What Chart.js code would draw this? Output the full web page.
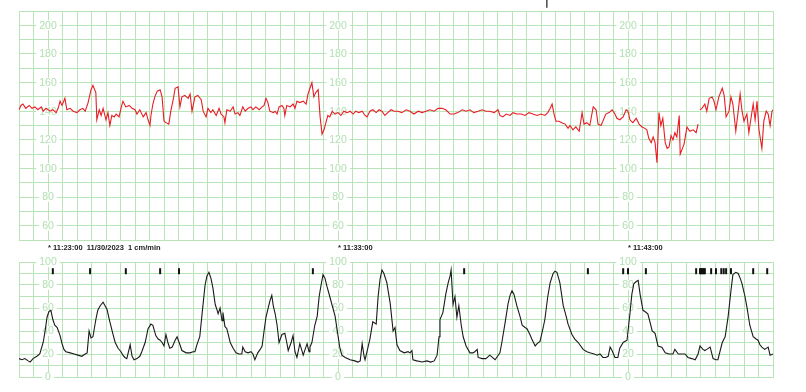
<!DOCTYPE html>
<html><head><meta charset="utf-8">
<script src="https://cdn.jsdelivr.net/npm/chart.js@4/dist/chart.umd.min.js"></script>
<style>
html,body{margin:0;padding:0;background:#fff;}
#wrap{position:relative;width:806px;height:392px;overflow:hidden;background:#fff;}
canvas{position:absolute;left:0;}
</style></head><body>
<div id="wrap">
<canvas id="fhr" width="806" height="262" style="top:0"></canvas>
<canvas id="toco" width="806" height="136" style="top:256px"></canvas>
</div>
<script>
// Time axis: seconds after 11:22:00 on 11/30/2023
const timeTickSec = [60, 660, 1260];
const timeTickText = ['* 11:23:00  11/30/2023  1 cm/min', '* 11:33:00', '* 11:43:00'];
const fhrTickLabels = [60, 80, 100, 120, 140, 160, 180, 200];
const tocoTickLabels = [0, 20, 40, 60, 80, 100];

const fhrSec = [0,4,8,14,21,27,33,39,46,50,
56,64,70,77,81,85,89,95,99,106,
112,120,126,132,137,143,149,153,159,161,
166,170,174,180,184,188,192,197,201,207,
211,215,221,228,234,240,244,250,257,263,
267,271,273,277,281,286,292,296,300,304,
310,314,319,323,329,333,337,343,350,354,
358,364,370,377,381,387,391,397,401,408,
414,418,424,426,430,437,443,447,453,457,
463,468,474,480,484,490,497,503,507,511,
515,519,526,530,534,538,544,548,550,554,
561,567,571,575,581,588,594,598,602,606,
610,614,619,623,627,631,635,639,643,648,
654,660,666,672,679,685,691,697,703,710,
716,720,726,732,739,745,751,757,763,770,
776,784,792,801,809,817,826,834,842,850,
859,867,875,883,892,900,908,917,925,933,
941,950,958,966,974,983,991,995,1001,1008,
1016,1022,1030,1039,1047,1055,1063,1072,1080,1088,
1094,1099,1103,1107,1111,1117,1123,1130,1136,1140,
1146,1152,1159,1165,1169,1175,1181,1188,1194,1198,
1204,1208,1214,1221,1227,1233,1237,1243,1250,1256,
1260,1264,1270,1277,1283,1289,1295,1299,1303,1308,
1312,1316,1320,1324,1328,1332,1337,1341,1345,1349,
1353,1357,1361,1366,1368,1376,1382,1388,1395,1401,
1405,1407,1409,1413,1419,1423,1428,1434,1438,1442,
1448,1455,1459,1463,1469,1473,1477,1483,1488,1492,
1496,1500,1506,1510,1514,1519,1523,1527,1531,1537,
1541,1546,1550,1554,1558,1560];

const fhrBpm = [141,144,145,142,144,142,143,141,143,140,
142,140,141,139,142,147,144,149,141,142,
140,139,141,142,140,146,155,158,153,134,
141,137,142,134,139,130,137,136,138,136,
142,147,143,144,142,141,138,141,136,139,
134,130,137,145,150,154,155,150,133,132,
131,140,148,156,157,143,150,151,149,152,
140,150,151,148,140,136,142,139,141,137,
142,138,136,132,141,140,143,138,139,137,
143,140,142,143,141,143,141,143,144,149,
146,140,139,140,138,143,144,142,137,144,
143,145,142,147,146,147,145,152,156,160,
150,153,155,136,124,127,132,137,136,140,
138,139,137,140,139,140,138,140,139,140,
137,136,140,141,139,141,140,137,139,141,
140,140,139,141,140,138,140,139,140,141,
140,142,142,141,138,138,139,141,140,141,
139,140,141,140,140,139,141,137,136,138,
137,139,138,138,137,139,138,137,138,137,
139,142,145,138,133,133,132,131,128,130,
127,129,126,139,131,132,130,143,141,131,
130,133,138,139,141,138,135,134,136,141,
140,134,132,135,131,129,128,127,121,118,
122,118,104,139,130,135,118,114,115,123,
120,125,122,137,110,117,129,126,127,125,
131,null,141,142,145,140,149,150,147,141,
150,156,151,136,140,150,145,126,140,152,
140,133,138,125,134,145,134,147,127,114,
133,140,138,130,140,141];

// small marker above the FHR grid (from / to bpm level)
const fhrMarkSec = [1092];
const fhrMarkRange = [[212.5, 217.5]];

const tocoSec = [0,6,12,19,23,29,37,43,50,54,
58,62,66,70,74,79,85,89,93,97,
106,114,122,130,137,141,145,149,153,159,
163,168,174,178,182,188,194,199,205,211,
215,219,223,230,234,238,244,250,254,261,
267,273,277,283,288,292,296,300,304,308,
312,317,323,327,333,337,346,354,360,364,
368,374,381,385,389,393,397,401,406,410,
412,416,420,422,426,430,437,443,449,455,
461,463,468,474,480,484,488,494,499,503,
507,511,515,519,523,526,530,534,538,544,
550,554,557,563,567,571,575,579,581,586,
588,592,596,600,602,606,608,612,617,621,
625,629,633,637,643,648,654,660,664,668,
675,685,695,701,706,710,714,716,720,726,
732,739,743,747,751,755,761,768,772,774,
778,782,788,797,805,809,813,815,823,834,
844,852,859,865,869,871,877,883,888,892,
894,898,902,906,910,915,919,925,933,939,
943,948,950,958,966,974,985,995,999,1006,
1012,1016,1020,1024,1030,1037,1041,1047,1051,1057,
1061,1068,1072,1078,1084,1088,1094,1099,1105,1109,
1113,1119,1126,1132,1136,1144,1150,1157,1167,1175,
1181,1190,1196,1202,1208,1214,1219,1223,1227,1233,
1239,1243,1250,1258,1264,1268,1272,1277,1281,1285,
1291,1295,1301,1306,1310,1316,1322,1330,1337,1345,
1353,1357,1364,1372,1378,1384,1392,1399,1405,1409,
1415,1419,1423,1430,1436,1442,1446,1455,1461,1467,
1473,1477,1483,1488,1492,1496,1502,1506,1512,1519,
1525,1529,1533,1537,1543,1550,1554,1560];

const tocoVal = [16,15,16,14,13,16,18,20,30,40,
52,57,58,50,45,43,36,29,24,22,
21,20,19,18,20,21,40,34,35,50,
58,62,65,62,59,48,38,30,25,22,
19,17,16,28,18,15,16,18,22,30,
42,46,45,36,33,32,30,27,37,30,
25,26,32,35,28,23,21,21,22,22,
28,35,64,80,88,91,86,78,63,58,
55,60,49,56,44,42,30,25,21,20,
20,26,22,21,22,20,15,21,24,27,
40,52,59,66,71,62,55,45,30,37,
38,30,23,30,36,22,17,25,29,22,
19,24,29,22,26,30,35,45,53,70,
80,89,86,79,70,62,53,36,25,19,
17,15,14,13,14,29,18,15,22,33,
48,46,70,85,93,90,82,64,48,40,
43,28,23,21,22,21,23,15,14,13,
14,13,14,19,35,50,56,72,82,88,
93,63,70,52,62,45,35,27,21,21,
22,24,17,16,16,19,15,21,30,48,
64,71,75,72,62,52,45,43,42,37,
33,27,29,31,42,50,70,82,90,92,
91,82,62,53,46,37,33,30,24,22,
21,20,19,20,17,17,18,26,23,17,
17,25,30,32,55,72,81,83,84,72,
58,57,55,47,40,38,27,26,21,20,
20,24,20,20,20,17,16,15,20,27,
24,23,24,26,16,15,15,30,35,52,
75,89,91,90,86,81,70,61,45,35,
33,32,28,26,24,26,19,20];

const eventSec = [70,147,221,292,331,608,921,1177,1250,1260,1297,1401,1409,1411,1413,1415,1417,1419,1432,1442,1453,1458,1463,1473,1519,1548];
const eventLevel = 92;

const GRID = 'rgb(184,229,184)';
const LABEL = 'rgb(178,224,178)';
const FONT = 'Arial, "Liberation Sans", sans-serif';

const inlineLabels = {
  id: 'inlineLabels',
  beforeDatasetsDraw(chart, args, opts) {
    const ctx = chart.ctx, xs = chart.scales.x, ys = chart.scales.y;
    ctx.save();
    ctx.font = opts.font;
    ctx.textAlign = 'center';
    ctx.textBaseline = 'middle';
    opts.columns.forEach(c => {
      const px = xs.getPixelForValue(c);
      opts.values.forEach(v => {
        const py = ys.getPixelForValue(v);
        const t = String(v);
        const w = ctx.measureText(t).width;
        ctx.fillStyle = '#fff';
        ctx.fillRect(px - w / 2 - 3, py - 5, w + 6, 10);
        ctx.fillStyle = opts.color;
        ctx.fillText(t, px, py + 0.5);
      });
    });
    ctx.restore();
  }
};

const zip = (xs, ys) => xs.map((x, i) => ({x, y: ys[i]}));

new Chart(document.getElementById('fhr'), {
  type: 'line',
  data: {
    datasets: [{
      data: zip(fhrSec, fhrBpm),
      borderColor: 'rgb(232,30,36)',
      borderWidth: 1.1,
      pointRadius: 0,
      tension: 0,
      spanGaps: false
    }, {
      type: 'bar',
      data: zip(fhrMarkSec, fhrMarkRange),
      barThickness: 1,
      backgroundColor: '#555',
      borderWidth: 0,
      clip: false
    }]
  },
  options: {
    responsive: false,
    devicePixelRatio: 1,
    animation: false,
    events: [],
    layout: {padding: {left: 19, right: 33, top: 11, bottom: 7}},
    plugins: {
      legend: {display: false},
      tooltip: {enabled: false},
      inlineLabels: {columns: timeTickSec, values: fhrTickLabels, font: '10.5px ' + FONT, color: LABEL}
    },
    scales: {
      x: {
        type: 'linear', min: 0, max: 1560, offset: false,
        grid: {color: GRID, drawTicks: false, lineWidth: 1, offset: false},
        border: {color: GRID},
        ticks: {
          stepSize: 30, autoSkip: false, maxRotation: 0, minRotation: 0, align: 'start', padding: 3,
          color: '#222', font: {family: FONT, size: 7.5, weight: 'bold'},
          callback: v => { const i = timeTickSec.indexOf(v); return i >= 0 ? timeTickText[i] : ''; }
        }
      },
      y: {
        type: 'linear', min: 50, max: 210, beginAtZero: false,
        grid: {color: GRID, drawTicks: false, lineWidth: 1},
        border: {color: GRID},
        ticks: {stepSize: 10, display: false}
      }
    }
  },
  plugins: [inlineLabels]
});

new Chart(document.getElementById('toco'), {
  type: 'line',
  data: {
    datasets: [{
      data: zip(tocoSec, tocoVal),
      borderColor: '#1a1a1a',
      borderWidth: 1.1,
      pointRadius: 0,
      tension: 0
    }, {
      type: 'scatter',
      data: eventSec.map(s => ({x: s, y: eventLevel})),
      showLine: false,
      pointStyle: 'line',
      rotation: 90,
      radius: 3,
      borderColor: '#111',
      borderWidth: 2
    }]
  },
  options: {
    responsive: false,
    devicePixelRatio: 1,
    animation: false,
    events: [],
    layout: {padding: {left: 19, right: 33, top: 5, bottom: 15}},
    plugins: {
      legend: {display: false},
      tooltip: {enabled: false},
      inlineLabels: {columns: timeTickSec, values: tocoTickLabels, font: '10.5px ' + FONT, color: LABEL}
    },
    scales: {
      x: {
        type: 'linear', min: 0, max: 1560,
        grid: {color: GRID, drawTicks: false},
        border: {color: GRID},
        ticks: {stepSize: 30, display: false}
      },
      y: {
        type: 'linear', min: 0, max: 100,
        grid: {color: GRID, drawTicks: false},
        border: {color: GRID},
        ticks: {stepSize: 10, display: false}
      }
    }
  },
  plugins: [inlineLabels]
});
</script>
</body></html>
